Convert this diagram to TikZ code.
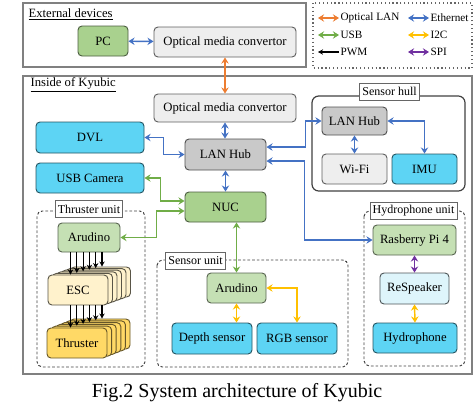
\documentclass[tikz,border=0pt]{standalone}
\usepackage{fontspec}
\setmainfont{Liberation Serif}
\usetikzlibrary{arrows.meta,positioning}

\definecolor{ethblue}{HTML}{4472C4}
\definecolor{lanorange}{HTML}{ED7D31}
\definecolor{usbgreen}{HTML}{70AD47}
\definecolor{itwocyellow}{HTML}{FFC000}
\definecolor{spipurple}{HTML}{7030A0}
\definecolor{pcgreen}{HTML}{A9D18E}
\definecolor{ardgreen}{HTML}{C5E0B4}
\definecolor{sensorcyan}{HTML}{5DD4F4}
\definecolor{hubgray}{HTML}{C9C9C9}
\definecolor{palegray}{HTML}{EEEEEE}
\definecolor{palecyan}{HTML}{DEF5FB}
\definecolor{esccream}{HTML}{FFF2CC}
\definecolor{thrgold}{HTML}{FFD966}

\tikzset{
  blk/.style={rounded corners=3pt, line width=0.7pt, inner sep=0pt,
    font=\fontsize{9.5}{11}\selectfont},
  pcbox/.style={blk, fill=pcgreen, draw=pcgreen!45!black},
  ardbox/.style={blk, fill=ardgreen, draw=ardgreen!45!black},
  cyanbox/.style={blk, fill=sensorcyan, draw=sensorcyan!40!black},
  hubbox/.style={blk, fill=hubgray, draw=hubgray!40!black},
  lightbox/.style={blk, fill=palegray, draw=palegray!40!black},
  palebox/.style={blk, fill=palecyan, draw=palecyan!35!black},
  escbox/.style={blk, fill=esccream, draw=esccream!35!black,
    minimum width=45pt, minimum height=22.5pt},
  thrbox/.style={blk, fill=thrgold, draw=thrgold!40!black,
    minimum width=45pt, minimum height=22.5pt},
  link/.style={line width=1.1pt, >={Stealth[length=4.6pt,width=5.6pt,inset=1.6pt]}, <->},
  eth/.style={link, draw=ethblue},
  optlan/.style={link, draw=lanorange},
  usb/.style={link, draw=usbgreen},
  itwoc/.style={link, draw=itwocyellow},
  spi/.style={link, draw=spipurple},
  pwm/.style={line width=0.8pt, draw=black, ->, >={Stealth[length=3.8pt,width=4pt]}},
  frame/.style={draw=black!50, line width=1pt},
  unitframe/.style={draw=black!75, line width=0.7pt, dash pattern=on 2pt off 1.5pt, rounded corners=4pt},
  hullframe/.style={draw=black!75, line width=0.9pt, rounded corners=5pt},
  tag/.style={draw=black!60, fill=white, line width=0.5pt, inner sep=2pt,
    minimum height=13pt, font=\fontsize{9}{10}\selectfont},
  headlbl/.style={anchor=west, inner sep=1pt, font=\fontsize{9.5}{11}\selectfont},
  legtext/.style={anchor=west, inner sep=1pt, font=\fontsize{8.4}{10}\selectfont},
}

\begin{document}
\begin{tikzpicture}[x=0.75pt,y=-0.75pt]
\useasboundingbox (0,0) rectangle (474,418);

% frames
\draw[frame] (23,3) rectangle (306,67);
\draw[frame] (23,76) rectangle (472,374);
\draw[draw=black!60, line width=0.9pt, dotted] (313,3) rectangle (472,68);
\draw[hullframe] (312,96) rectangle (465,191);
\draw[unitframe] (37,211) rectangle (145,367);
\draw[unitframe] (157,260) rectangle (348,367);
\draw[unitframe] (364,211) rectangle (465,366);

\node[headlbl] (extlbl) at (27,14) {\underline{External devices}};
\node[headlbl] (inlbl) at (29,85) {\underline{Inside of Kyubic}};
\node[tag] (hulltag) at (389.5,91.5) {Sensor hull};
\node[tag] (thrtag) at (89,209) {Thruster unit};
\node[tag] (sentag) at (195.5,260.5) {Sensor unit};
\node[tag] (hydtag) at (413.5,210.5) {Hydrophone unit};

% legend
\node[legtext] (lgopt) at (339,18) {Optical LAN};
\node[legtext] (lgusb) at (339,35) {USB};
\node[legtext] (lgpwm) at (339,52) {PWM};
\node[legtext] (lgeth) at (429,18) {Ethernet};
\node[legtext] (lgitc) at (429,35) {I2C};
\node[legtext] (lgspi) at (429,52) {SPI};
\draw[optlan] (lgopt.west) -- ++(-21,0);
\draw[usb] (lgusb.west) -- ++(-21,0);
\draw[pwm] (lgpwm.west) -- ++(-21,0);
\draw[eth] (lgeth.west) -- ++(-21,0);
\draw[itwoc] (lgitc.west) -- ++(-21,0);
\draw[spi] (lgspi.west) -- ++(-21,0);

% external devices
\node[pcbox, minimum width=37.5pt, minimum height=22.5pt] (pc) at (103,41) {PC};
\node[lightbox, minimum width=106.5pt, minimum height=22.5pt] (omcext) at (225,42) {Optical media convertor};

% main part
\node[lightbox, minimum width=106.5pt, minimum height=21pt] (omcin) at (225,108) {Optical media convertor};
\node[hubbox, minimum width=60.75pt, minimum height=23.25pt] (hub) at (225.5,154.5) {LAN Hub};
\node[pcbox, minimum width=60.75pt, minimum height=22.5pt] (nuc) at (225.5,207) {NUC};
\node[cyanbox, minimum width=81pt, minimum height=23.25pt] (dvl) at (90,137.5) {DVL};
\node[cyanbox, minimum width=81pt, minimum height=22.5pt] (cam) at (90,178) {USB Camera};

% thruster unit
\node[ardbox, minimum width=46.5pt, minimum height=21.75pt] (thard) at (89,237.5) {Arudino};
\foreach \i in {5,...,1}
  \node[escbox] (esc\i) at ({78+4.5*\i},{290-1.6*\i}) {};
\node[escbox] (esc0) at (78,290) {ESC};
\foreach \i in {5,...,1}
  \node[thrbox] (thr\i) at ({77+4.6*\i},{343-1.8*\i}) {};
\node[thrbox] (thr0) at (77,343) {Thruster};
\foreach \i in {0,...,5} {
  \coordinate (pw\i) at ({70.5+6.3*\i},0);
  \draw[pwm] (thard.south -| pw\i) -- (esc\i.north -| pw\i);
  \draw[pwm] (esc0.south -| pw\i) -- (thr\i.north -| pw\i);
}

% sensor unit
\node[ardbox, minimum width=44.25pt, minimum height=22.5pt] (snard) at (236.5,288) {Arudino};
\node[cyanbox, minimum width=60pt, minimum height=23.25pt] (depth) at (212,338.5) {Depth sensor};
\node[cyanbox, minimum width=60pt, minimum height=23.25pt] (rgb) at (297,338.5) {RGB sensor};

% sensor hull
\node[hubbox, minimum width=48.75pt, minimum height=21pt] (hullhub) at (354.5,121) {LAN Hub};
\node[lightbox, minimum width=48.75pt, minimum height=22.5pt] (wifi) at (354.5,169) {Wi-Fi};
\node[cyanbox, minimum width=48.75pt, minimum height=22.5pt] (imu) at (424.5,169) {IMU};

% hydrophone unit
\node[ardbox, minimum width=62.25pt, minimum height=22.5pt] (rpi) at (414.5,240) {Rasberry Pi 4};
\node[palebox, minimum width=51.75pt, minimum height=23.25pt] (resp) at (414.5,288.5) {ReSpeaker};
\node[cyanbox, minimum width=63pt, minimum height=22.5pt] (hydro) at (415,338) {Hydrophone};

% connections
\draw[eth] (pc) -- (omcext);
\draw[optlan] (omcext.south) -- (omcin.north);
\draw[eth] (omcin.south) -- (omcin.south |- hub.north);
\draw[eth] (hub.south) -- (nuc.north);
\draw[eth] (dvl.east) -- ++(19,0) |- (hub.west);
\draw[usb] (cam.east) -- ++(16,0) |- ([yshift=4.5pt]nuc.west);
\draw[usb] ([yshift=-3pt]nuc.west) -- ++(-28,0) |- (thard.east);
\draw[usb] (nuc.south -| snard.north) -- (snard.north);
\draw[itwoc] (snard.south) -- (snard.south |- depth.north);
\draw[itwoc] (snard.east) -| (rgb.north);
\draw[eth] ([yshift=5.6pt]hub.east) -- ++(39,0) |- (hullhub.west);
\draw[eth] ([yshift=-4.9pt]hub.east) -- ++(38,0) |- (rpi.west);
\draw[eth] (hullhub.south) -- (wifi.north);
\draw[eth] (hullhub.east) -| (imu.north);
\draw[spi] (rpi.south) -- (resp.north);
\draw[itwoc] (resp.south) -- (hydro.north);

\node[font=\fontsize{15}{18}\selectfont] (caption) at (237,393) {Fig.2 System architecture of Kyubic};
\end{tikzpicture}
\end{document}
